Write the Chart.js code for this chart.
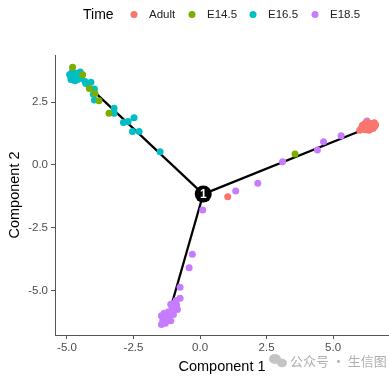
<!DOCTYPE html>
<html><head><meta charset="utf-8">
<script src="https://cdn.jsdelivr.net/npm/chart.js@4/dist/chart.umd.min.js"></script>
<style>html,body{margin:0;padding:0;background:#fff;}#wrap{width:389px;height:377px;position:relative;}</style>
</head><body><div id="wrap"><canvas id="c" width="389" height="377"></canvas></div>
<script>
// ---- data ----
const seriesNames = ['Adult', 'E14.5', 'E16.5', 'E18.5'];
const seriesColors = ['#F8766D', '#7CAE00', '#00BFC4', '#C77CFF'];

const adultX = [1.04, 6.0, 6.05, 6.1, 6.15, 6.2, 6.2, 6.25, 6.3, 6.3, 6.35, 6.35, 6.4, 6.4, 6.45, 6.5, 6.5, 6.55, 6.55, 6.6, 6.3];
const adultY = [-1.26, 1.38, 1.45, 1.58, 1.52, 1.4, 1.65, 1.6, 1.48, 1.7, 1.55, 1.38, 1.65, 1.42, 1.5, 1.58, 1.45, 1.68, 1.52, 1.6, 1.5];

const e145X = [-4.79, -4.41, -4.16, -3.95, -3.8, -3.42, 3.57];
const e145Y = [3.89, 3.59, 3.05, 2.85, 2.56, 2.06, 0.44];

const e165X = [-4.9, -4.85, -4.8, -4.75, -4.7, -4.65, -4.6, -4.55, -4.5, -4.7, -4.85, -4.6, -4.5, -4.45, -4.78, -4.62,
  -4.32, -4.29, -4.1, -3.97, -4.01, -3.97, -3.23, -3.23, -2.88, -2.7, -2.48, -2.54, -2.29, -1.5];
const e165Y = [3.6, 3.5, 3.7, 3.45, 3.55, 3.65, 3.4, 3.55, 3.7, 3.35, 3.4, 3.6, 3.45, 3.55, 3.62, 3.5,
  3.32, 3.25, 3.29, 3.03, 2.82, 2.59, 2.26, 2.06, 1.69, 1.73, 1.88, 1.33, 1.33, 0.53];

const e185X = [0.1, 1.34, 2.17, 3.1, 4.41, 4.64, 5.3, 6.27, -0.29, -0.41, -0.75, -0.75, -0.88,
  -0.95, -1.05, -1.2, -1.35, -1.45, -1.4, -1.3, -1.2, -1.0, -1.1, -1.45, -0.85, -1.25, -0.9, -1.1, -1.38];
const e185Y = [-1.79, -1.04, -0.73, 0.13, 0.6, 0.93, 1.16, 1.75, -3.55, -4.09, -4.87, -5.31, -5.58,
  -5.5, -5.7, -5.85, -5.9, -6.0, -6.2, -6.3, -6.1, -5.95, -6.2, -6.35, -5.75, -6.0, -5.4, -5.55, -6.1];

// trajectory branches (principal graph)
const rootNode = [0.12, -1.16];
const branchA = [[0.12, -1.16], [-4.45, 3.39]];
const branchB = [[0.12, -1.16], [6.27, 1.46]];
const branchC = [[0.12, -1.16], [-1.04, -5.45]];

const xTicks = [-5, -2.5, 0, 2.5, 5];
const yTicks = [-5, -2.5, 0, 2.5];

// ---- build ----
const seriesX = [adultX, e145X, e165X, e185X];
const seriesY = [adultY, e145Y, e165Y, e185Y];
const pts = (xs, ys) => xs.map((x, i) => ({x: x, y: ys[i]}));

const datasets = [];
datasets.push({type: 'scatter', label: 'node', data: [{x: rootNode[0], y: rootNode[1]}], pointRadius: 8.5,
  pointBackgroundColor: '#000', pointBorderWidth: 0, order: 0});
seriesNames.forEach((n, i) => {
  datasets.push({type: 'scatter', label: n, data: pts(seriesX[i], seriesY[i]), pointRadius: 3.5,
    pointBackgroundColor: seriesColors[i], pointBorderWidth: 0, order: 1});
});
[branchA, branchB, branchC].forEach((b, i) => {
  datasets.push({type: 'line', label: 'branch' + i, data: b.map(p => ({x: p[0], y: p[1]})), borderColor: '#000',
    borderWidth: 2.2, pointRadius: 0, fill: false, tension: 0, order: 2});
});

const fontFam = "'Liberation Sans', Arial, sans-serif";

const extras = {
  id: 'extras',
  afterDraw(chart) {
    const ctx = chart.ctx;
    const xs = chart.scales.x, ys = chart.scales.y;
    const nx = xs.getPixelForValue(rootNode[0]), ny = ys.getPixelForValue(rootNode[1]);
    ctx.save();
    ctx.fillStyle = '#fff';
    ctx.font = 'bold 12px ' + fontFam;
    ctx.textAlign = 'center'; ctx.textBaseline = 'middle';
    ctx.fillText('1', nx, ny + 0.5);
    // legend
    ctx.textAlign = 'left';
    ctx.fillStyle = '#000';
    ctx.font = '14px ' + fontFam;
    ctx.fillText('Time', 83, 15);
    const dotX = [134, 192, 253, 315];
    ctx.font = '11.5px ' + fontFam;
    seriesNames.forEach((n, i) => {
      ctx.beginPath();
      ctx.fillStyle = seriesColors[i];
      ctx.arc(dotX[i], 14.5, 3.5, 0, Math.PI * 2);
      ctx.fill();
      ctx.fillStyle = '#222';
      ctx.fillText(n, dotX[i] + 15, 15);
    });
    // watermark
    ctx.fillStyle = '#c4c4c4';
    ctx.beginPath(); ctx.ellipse(275, 359, 6, 5, 0, 0, Math.PI * 2); ctx.fill();
    ctx.beginPath(); ctx.ellipse(282, 363, 5, 4.2, 0, 0, Math.PI * 2); ctx.fill();
    ctx.fillStyle = '#b0b0b0';
    ctx.font = "13px 'Noto Sans CJK SC', sans-serif";
    ctx.fillText('公众号 · 生信图', 290, 361);
    ctx.restore();
  }
};

new Chart(document.getElementById('c'), {
  type: 'scatter',
  data: {datasets},
  options: {
    responsive: false,
    animation: false,
    devicePixelRatio: 1,
    layout: {autoPadding: false, padding: {top: 55, right: 0, left: 0, bottom: 0}},
    plugins: {legend: {display: false}, tooltip: {enabled: false}},
    scales: {
      x: {
        type: 'linear', min: -5.45, max: 7.1,
        afterBuildTicks: s => { s.ticks = xTicks.map(v => ({value: v})); },
        afterFit: s => { s.height = 42; },
        ticks: {callback: v => v.toFixed(1), color: '#4D4D4D', font: {size: 11.5, family: fontFam}, padding: 2, maxRotation: 0},
        grid: {drawOnChartArea: false, tickLength: 4, color: '#555'},
        border: {color: '#555', width: 1},
        title: {display: true, text: 'Component 1', color: '#000', font: {size: 14.5, family: fontFam}, padding: {top: 0, bottom: 1}}
      },
      y: {
        type: 'linear', min: -6.77, max: 4.38,
        afterBuildTicks: s => { s.ticks = yTicks.map(v => ({value: v})); },
        afterFit: s => { s.width = 55; },
        ticks: {callback: v => v.toFixed(1), color: '#4D4D4D', font: {size: 11.5, family: fontFam}, padding: 3},
        grid: {drawOnChartArea: false, tickLength: 4, color: '#555'},
        border: {color: '#555', width: 1},
        title: {display: true, text: 'Component 2', color: '#000', font: {size: 14.5, family: fontFam}, padding: {top: 6, bottom: 0}}
      }
    }
  },
  plugins: [extras]
});
</script></body></html>
